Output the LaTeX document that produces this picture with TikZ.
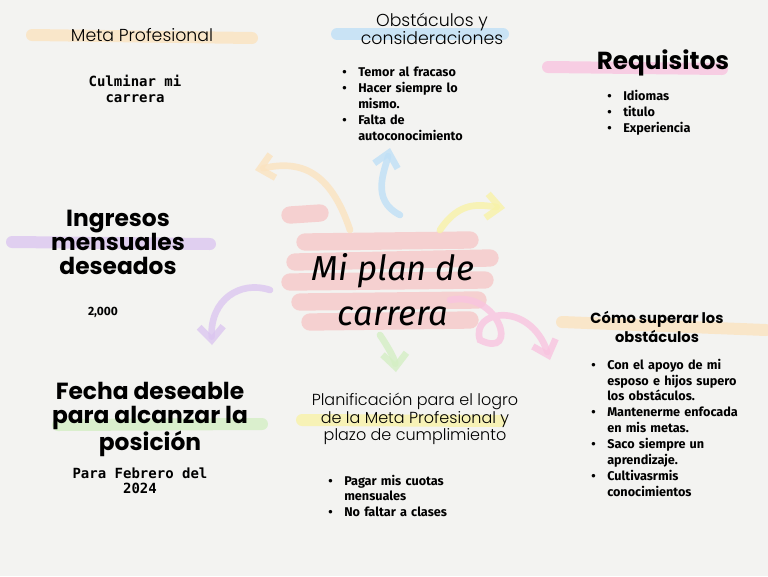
\documentclass[tikz,border=0pt]{standalone}
\usepackage{fontspec}
\setmainfont{Fira Sans}
\newfontfamily\pop{Poppins}
\newfontfamily\popl{Poppins Light}
\newfontfamily\mono{DejaVu Sans Mono}
\usetikzlibrary{arrows.meta}
\definecolor{bg}{HTML}{F3F3F1}
\definecolor{hOr}{HTML}{FBE3C0}
\definecolor{hBl}{HTML}{BFE0F7}
\definecolor{hPk}{HTML}{F9C4E0}
\definecolor{hPu}{HTML}{DCC6F0}
\definecolor{hGr}{HTML}{D4EFC4}
\definecolor{hYe}{HTML}{F8F2A8}
\definecolor{hRd}{HTML}{F8B5B5}
\newlength\bw
\newcommand\bitem[1]{\noindent\makebox[12pt][l]{\textbullet}\parbox[t]{\bw}{\raggedright\hyphenpenalty=10000\strut #1\strut}\par}
\tikzset{x=0.75pt,y=-0.75pt,
 hl/.style={line width=9pt,line cap=round,opacity=0.8},
 brush/.style={line width=13pt,line cap=round,color=hRd,opacity=0.55},
 harrow/.style={line width=5pt,line cap=round,-{Straight Barb[length=10pt,width=18pt,line width=5pt]},opacity=0.8},
 ttl/.style={font=\popl\fontsize{13}{14}\selectfont,align=center,text=black},
 big/.style={font=\pop\bfseries\fontsize{17.5}{18}\selectfont,align=center,text=black},
 lst/.style={font=\bfseries\fontsize{9.5}{11}\selectfont\setlength\bw{#1},text width=#1+14pt,anchor=north west,inner sep=0pt},
 mn/.style={font=\mono\bfseries\fontsize{10.5}{11.5}\selectfont,align=left}}
\begin{document}
\begin{tikzpicture}
\fill[bg] (0,0) rectangle (768,576);
\useasboundingbox (0,0) rectangle (768,576);
% highlights
\draw[hl,hOr] (32,35) -- (252,38);
\draw[hl,hBl] (337,34) -- (503,34);
\draw[hl,hPk] (548,67) -- (722,69);
\draw[hl,hPu] (12,242) -- (210,244);
\draw[hl,hGr] (58,425) -- (262,424);
\draw[hl,hYe] (302,420) -- (500,421);
\draw[hl,hOr] (562,322) -- (766,330);
% center brush
\draw[brush] (305,242) -- (470,240);
\draw[brush] (295,262) -- (490,258);
\draw[brush] (290,282) -- (485,280);
\draw[brush] (300,302) -- (478,300);
\draw[brush] (310,322) -- (470,320);
\draw[brush] (290,215) -- (320,213);
% arrows
\draw[harrow,hOr] (350,230) .. controls (330,170) and (300,160) .. (255,170);
\draw[harrow,hBl] (400,215) .. controls (370,200) and (385,170) .. (390,148);
\draw[harrow,hYe] (440,230) .. controls (460,200) and (480,205) .. (505,208);
\draw[harrow,hPu] (270,290) .. controls (240,280) and (210,300) .. (212,345);
\draw[harrow,hGr] (380,335) .. controls (390,350) and (395,360) .. (396,372);
\draw[harrow,hPk] (450,300) .. controls (500,290) and (520,360) .. (480,340) .. controls (470,310) and (530,300) .. (550,360);
% texts
\node[ttl] (meta) at (142,35) {Meta Profesional};
\node[mn] (cul) at (135,89) {Culminar mi\\\ \ carrera};
\node[ttl] (obs) at (432,29) {Obstáculos y\\consideraciones};
\node[lst=90pt] (obsl) at (342,66) {\bitem{Temor al fracaso}\bitem{Hacer siempre lo mismo.}\bitem{Falta de autoconocimiento}};
\node[big,font=\pop\bfseries\fontsize{18.5}{19}\selectfont] (req) at (663,63) {Requisitos};
\node[lst=80pt] (reql) at (607,90) {\bitem{Idiomas}\bitem{titulo}\bitem{Experiencia}};
\node[big] (ing) at (118,242) {Ingresos\\mensuales\\deseados};
\node[font=\bfseries\fontsize{9}{10}\selectfont] (dos) at (103,312) {2,000};
\node[font=\itshape\fontsize{26}{34}\selectfont,align=center] (mi) at (393,290) {Mi plan de\\carrera};
\node[font=\pop\bfseries\fontsize{11}{14}\selectfont,align=center] (como) at (657,327) {Cómo superar los\\obstáculos};
\node[lst=106pt] (comol) at (591,359) {\bitem{Con el apoyo de mi esposo e hijos supero los obstáculos.}\bitem{Mantenerme enfocada en mis metas.}\bitem{Saco siempre un aprendizaje.}\bitem{Cultivasrmis conocimientos}};
\node[big] (fec) at (150,419) {Fecha deseable\\para alcanzar la\\posición};
\node[mn,align=center] (feb) at (140,481) {Para Febrero del\\2024};
\node[ttl,font=\popl\fontsize{12}{13}\selectfont] (pla) at (415,419) {Planificación para el logro\\de la Meta Profesional y\\plazo de cumplimiento};
\node[lst=90pt] (plal) at (328,475) {\bitem{Pagar mis cuotas mensuales}\bitem{No faltar a clases}};
\end{tikzpicture}
\end{document}
